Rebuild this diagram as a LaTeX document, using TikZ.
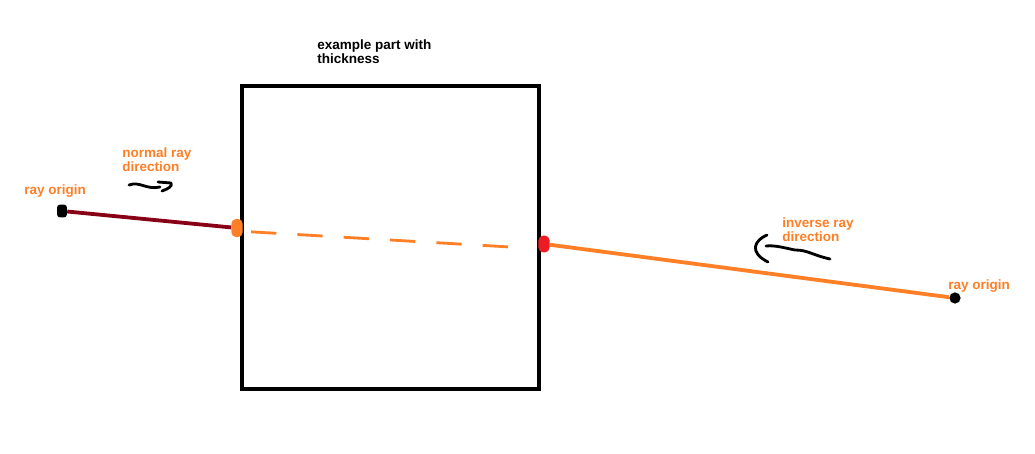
\documentclass[tikz,border=0pt]{standalone}
\usepackage{fontspec}
\setmainfont{Liberation Sans}
\usepackage{tikz}
\usetikzlibrary{calc}
\definecolor{paintorange}{HTML}{FF7F27}
\definecolor{paintred}{HTML}{ED1C24}
\definecolor{paintmaroon}{HTML}{880015}
\tikzset{
  lbl/.style={anchor=north west, inner sep=0pt, align=left,
    font=\fontsize{9.6}{10}\selectfont\bfseries},
  blob/.style={inner sep=0pt, rounded corners=2pt},
  squiggle/.style={black, line width=2pt, line cap=round, line join=round},
}
\begin{document}
\begin{tikzpicture}[x=0.025cm, y=-0.025cm]
        \useasboundingbox[fill=white] (0,0) rectangle (1035,454);
        % the part
        \draw[line width=2.85pt] (242,86) rectangle (539,389);
        \node[lbl, black] (partlbl) at (317,39) {example part with\\thickness};
        % blobs at origins and hits
        \node[blob, fill=black, minimum width=7pt, minimum height=9pt] (originL) at (62,211) {};
        \node[blob, fill=black, circle, minimum size=8pt] (originR) at (955,298) {};
        \node[blob, fill=paintorange, minimum width=8pt, minimum height=13pt, rounded corners=3.5pt] (hitL) at (237,228) {};
        \node[blob, fill=paintred, minimum width=8pt, minimum height=12pt, rounded corners=3.5pt] (hitR) at (544,244) {};
        % rays
        \draw[paintmaroon, line width=2.7pt] (originL) -- (hitL);
        \draw[paintorange, line width=2.7pt] (originR) -- (hitR);
        \draw[paintorange, line width=2pt, dash pattern=on 18pt off 15pt, shorten <=10pt, shorten >=24pt] ($(hitL)+(0,3)$) -- ($(hitR)+(0,5)$);
        % labels
        \node[lbl, paintorange] (originLlbl) at (24,184) {ray origin};
        \node[lbl, paintorange] (originRlbl) at (948,279) {ray origin};
        \node[lbl, paintorange] (normlbl) at (122,147) {normal ray\\direction};
        \node[lbl, paintorange] (invlbl) at (782,217) {inverse ray\\direction};
        % hand drawn direction arrows
        \draw[squiggle] (129,185) .. controls (140,181) and (146,190) .. (160,187);
        \draw[squiggle] (158,182) -- (171,183) .. controls (173,186) and (168,189) .. (162,191);
        \draw[squiggle] (830,259) .. controls (812,255) and (808,250) .. (795,250) .. controls (785,248) and (775,245) .. (766,246);
        \draw[squiggle] (767,235) .. controls (755,240) and (748,252) .. (768,262);
\end{tikzpicture}
\end{document}
